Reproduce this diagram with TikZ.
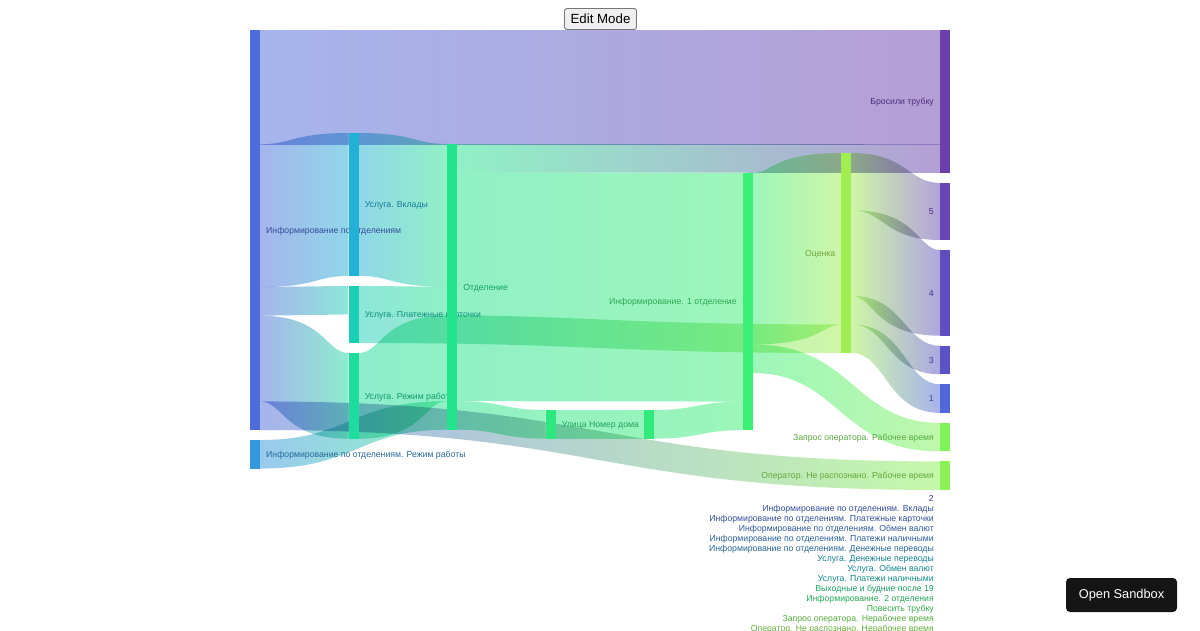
\documentclass[tikz,border=0pt]{standalone}
\usepackage{fontspec}
\setmainfont{Liberation Sans}
% node colours
\definecolor{cA}{HTML}{4E6CDB}
\definecolor{cB}{HTML}{3596DF}
\definecolor{cC}{HTML}{22B0D5}
\definecolor{cD}{HTML}{1BCFB5}
\definecolor{cE}{HTML}{1DDC9D}
\definecolor{cF}{HTML}{22E48D}
\definecolor{cS}{HTML}{2DE880}
\definecolor{cT}{HTML}{31EA7C}
\definecolor{cI}{HTML}{3CEF76}
\definecolor{cO}{HTML}{A0EF52}
\definecolor{cBr}{HTML}{6B40AD}
\definecolor{cV}{HTML}{6946B6}
\definecolor{cIV}{HTML}{604DC0}
\definecolor{cIII}{HTML}{5A52C6}
\definecolor{cOne}{HTML}{5067D9}
\definecolor{cZ}{HTML}{80F25A}
\definecolor{cP}{HTML}{8EF256}
% colours of the list labels
\definecolor{lA}{HTML}{473E8A}
\definecolor{lB}{HTML}{354D99}
\definecolor{lC}{HTML}{30529B}
\definecolor{lD}{HTML}{2C589C}
\definecolor{lE}{HTML}{285F9D}
\definecolor{lF}{HTML}{25669C}
\definecolor{lG}{HTML}{168092}
\definecolor{lH}{HTML}{13868C}
\definecolor{lI}{HTML}{128B88}
\definecolor{lJ}{HTML}{1BA261}
\definecolor{lK}{HTML}{24A858}
\definecolor{lL}{HTML}{35AC4B}
\definecolor{lM}{HTML}{54AC3E}
\definecolor{lN}{HTML}{6AAB3E}
\definecolor{btnf}{HTML}{EFEFEF}
\definecolor{btnb}{HTML}{767676}
\definecolor{sbx}{HTML}{151515}

% link: x0, y0a, y0b, x1, y1a, y1b, colour left, colour right
\newcommand\sklink[8]{%
  \pgfmathsetmacro\lya{(#2+#3)/2}%
  \pgfmathsetmacro\lyb{(#5+#6)/2}%
  \pgfmathsetmacro\ld{(#3-#2)/2}%
  \pgfmathsetmacro\lxm{(#1+#4)/2}%
  \pgfmathsetmacro\ls{2*(\lyb-\lya)/(#4-#1)}%
  \pgfmathsetmacro\lk{sqrt(1+\ls*\ls)}%
  \pgfmathsetmacro\ldl{\ld*\ls/(0.75*(\lk+1))}%
  \path[linkband, left color=#7, right color=#8]
    (#1,\lya-\ld) .. controls (\lxm+\ldl,\lya-\ld) and (\lxm+\ldl,\lyb-\ld) .. (#4,\lyb-\ld)
    -- (#4,\lyb+\ld) .. controls (\lxm-\ldl,\lyb+\ld) and (\lxm-\ldl,\lya+\ld) .. (#1,\lya+\ld) -- cycle;
}
% bar: name, x0, y0, y1, colour
\newcommand\skbar[5]{%
  \node[barnode, fill=#5, minimum height={#4-#3}] (#1) at (#2,#3) {};
}

\begin{document}
\begin{tikzpicture}[x=1pt,y=-1pt,
  linkband/.style={fill opacity=0.5, draw=none},
  barnode/.style={draw=none, inner sep=0pt, outer sep=0pt, anchor=north west, minimum width=10pt},
  labr/.style={inner sep=0pt, anchor=base west, font=\fontsize{8.7}{10}\selectfont},
  labl/.style={inner sep=0pt, anchor=base east, font=\fontsize{8.7}{10}\selectfont},
]
\useasboundingbox (0,0) rectangle (1200,630);
\fill[white] (0,0) rectangle (1200,630);

% ---------------- links ----------------
\begin{scope}[blend mode=multiply]
\sklink{260}{30}{144.29}{940}{30}{144.29}{cA}{cBr}
\sklink{457.14}{144}{172.57}{940}{144.29}{172.86}{cF}{cBr}
\sklink{260}{144.29}{287.14}{348.57}{133}{275.86}{cA}{cC}
\sklink{260}{287.14}{315.71}{348.57}{285.86}{314.43}{cA}{cD}
\sklink{260}{315.71}{401.43}{348.57}{353}{438.71}{cA}{cE}
\sklink{260}{401.43}{430}{940}{461.43}{490}{cA}{cP}
\sklink{260}{440}{468.57}{447.14}{401.14}{429.71}{cB}{cF}
\sklink{358.57}{133}{275.86}{447.14}{144}{286.86}{cC}{cF}
\sklink{358.57}{285.86}{314.43}{447.14}{286.86}{315.43}{cD}{cF}
\sklink{358.57}{314.43}{343}{841.43}{324.43}{353}{cD}{cO}
\sklink{358.57}{353}{438.71}{447.14}{315.43}{401.14}{cE}{cF}
\sklink{457.14}{172.57}{401.14}{742.86}{173}{401.57}{cF}{cI}
\sklink{457.14}{401.14}{429.71}{545.71}{410}{438.57}{cF}{cS}
\sklink{555.71}{410}{438.57}{644.29}{410}{438.57}{cS}{cT}
\sklink{654.29}{410}{438.57}{742.86}{401.57}{430.14}{cT}{cI}
\sklink{752.86}{173}{344.43}{841.43}{153}{324.43}{cI}{cO}
\sklink{752.86}{344.43}{373}{940}{422.86}{451.43}{cI}{cZ}
\sklink{851.43}{153}{210.14}{940}{182.86}{240}{cO}{cV}
\sklink{851.43}{210.14}{295.86}{940}{250}{335.71}{cO}{cIV}
\sklink{851.43}{295.86}{324.43}{940}{345.71}{374.29}{cO}{cIII}
\sklink{851.43}{324.43}{353}{940}{384.29}{412.86}{cO}{cOne}
\end{scope}

% ---------------- nodes and labels, column by column ----------------
\skbar{A}{250}{30}{430}{cA}
\node[labr, text=cA!70!black] (lblA) at (266,233.1) {Информирование по отделениям};
\skbar{B}{250}{440}{468.57}{cB}
\node[labr, text=cB!70!black] (lblB) at (266,457.4) {Информирование по отделениям. Режим работы};

\skbar{C}{348.57}{133}{275.86}{cC}
\node[labr, text=cC!70!black] (lblC) at (364.57,207.5) {Услуга. Вклады};
\skbar{D}{348.57}{285.86}{343}{cD}
\node[labr, text=cD!70!black] (lblD) at (364.57,317.5) {Услуга. Платежные карточки};
\skbar{E}{348.57}{353}{438.71}{cE}
\node[labr, text=cE!70!black] (lblE) at (364.57,399) {Услуга. Режим работы};

\skbar{F}{447.14}{144}{429.71}{cF}
\node[labr, text=cF!70!black] (lblF) at (463.14,290) {Отделение};

\skbar{S}{545.71}{410}{438.57}{cS}
\node[labr, text=cS!70!black] (lblS) at (561.71,427.4) {Улица Номер дома};
\skbar{T}{644.29}{410}{438.57}{cT}

\skbar{I}{742.86}{173}{430.14}{cI}
\node[labl, text=cI!70!black] (lblI) at (736.86,304.7) {Информирование. 1 отделение};

\skbar{O}{841.43}{153}{353}{cO}
\node[labl, text=cO!70!black] (lblO) at (835.43,256.1) {Оценка};

\skbar{Br}{940}{30}{172.86}{cBr}
\node[labl, text=cBr!70!black] (lblBr) at (934,104.5) {Бросили трубку};
\skbar{N5}{940}{182.86}{240}{cV}
\node[labl, text=cV!70!black] (lbl5) at (934,214.5) {5};
\skbar{N4}{940}{250}{335.71}{cIV}
\node[labl, text=cIV!70!black] (lbl4) at (934,296) {4};
\skbar{N3}{940}{345.71}{374.29}{cIII}
\node[labl, text=cIII!70!black] (lbl3) at (934,363.1) {3};
\skbar{N1}{940}{384.29}{412.86}{cOne}
\node[labl, text=cOne!70!black] (lbl1) at (934,401.7) {1};
\skbar{Z}{940}{422.86}{451.43}{cZ}
\node[labl, text=cZ!70!black] (lblZ) at (934,440.2) {Запрос оператора. Рабочее время};
\skbar{P}{940}{461.43}{490}{cP}
\node[labl, text=cP!70!black] (lblP) at (934,478.8) {Оператор. Не распознано. Рабочее время};

% zero-size nodes at the bottom of the last column
\node[labl, text=lA] (z0) at (934,501.6) {2};
\node[labl, text=lB] (z1) at (934,511.6) {Информирование по отделениям. Вклады};
\node[labl, text=lC] (z2) at (934,521.6) {Информирование по отделениям. Платежные карточки};
\node[labl, text=lD] (z3) at (934,531.6) {Информирование по отделениям. Обмен валют};
\node[labl, text=lE] (z4) at (934,541.6) {Информирование по отделениям. Платежи наличными};
\node[labl, text=lF] (z5) at (934,551.6) {Информирование по отделениям. Денежные переводы};
\node[labl, text=lG] (z6) at (934,561.6) {Услуга. Денежные переводы};
\node[labl, text=lH] (z7) at (934,571.6) {Услуга. Обмен валют};
\node[labl, text=lI] (z8) at (934,581.6) {Услуга. Платежи наличными};
\node[labl, text=lJ] (z9) at (934,591.6) {Выходные и будние после 19};
\node[labl, text=lK] (z10) at (934,601.6) {Информирование. 2 отделения};
\node[labl, text=lL] (z11) at (934,611.6) {Повесить трубку};
\node[labl, text=lM] (z12) at (934,621.6) {Запрос оператора. Нерабочее время};
\node[labl, text=lN] (z13) at (934,631.6) {Оператор. Не распознано. Нерабочее время};

% ---------------- buttons ----------------
\node[draw=btnb, fill=btnf, line width=0.9pt, rounded corners=2.5pt,
      minimum width=72pt, minimum height=21pt, inner sep=0pt,
      font=\fontsize{13.3}{16}\selectfont] (edit) at (600.5,19) {Edit Mode};
\node[fill=sbx, text=white, rounded corners=4pt, minimum width=111pt,
      minimum height=34pt, inner sep=0pt,
      font=\fontsize{12.8}{16}\selectfont] (sandbox) at (1121.5,595) {Open Sandbox};
\end{tikzpicture}
\end{document}
